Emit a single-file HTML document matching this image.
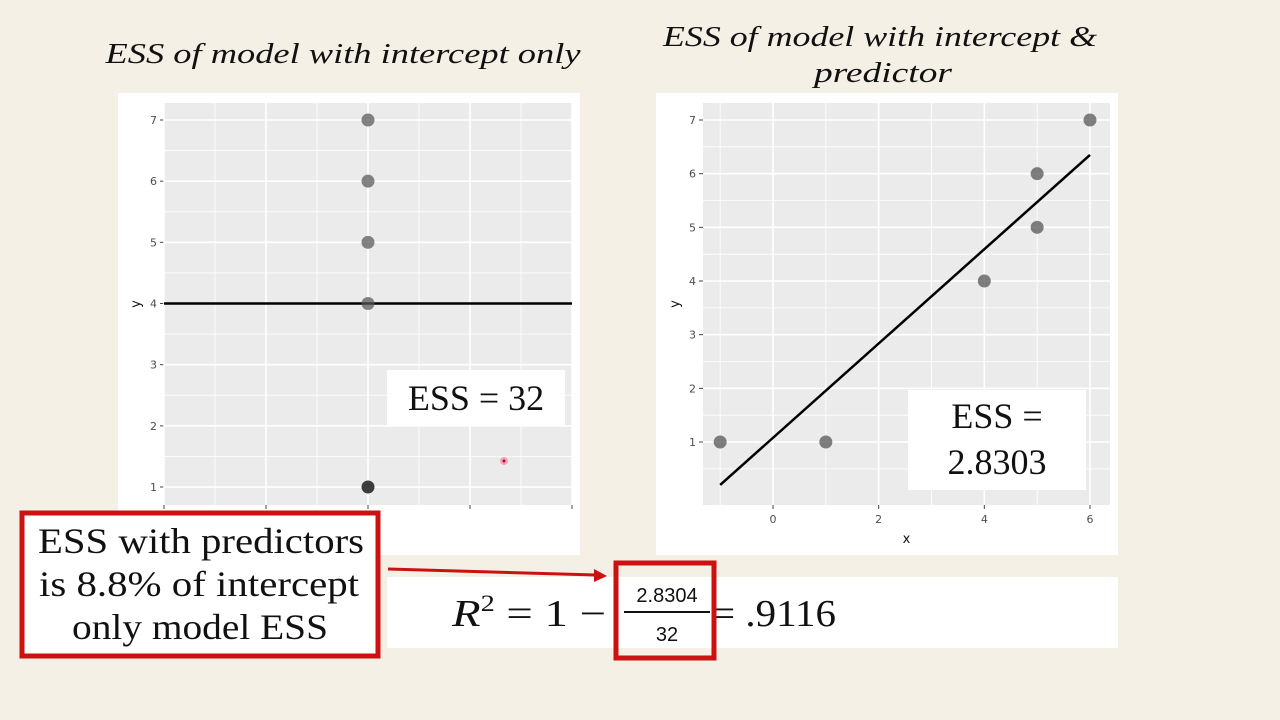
<!DOCTYPE html>
<html><head><meta charset="utf-8"><style>
html,body{margin:0;padding:0;background:#f5f0e5;}
svg{display:block;}
</style></head><body>
<svg id="s" width="1280" height="720" viewBox="0 0 1280 720" xmlns="http://www.w3.org/2000/svg">
<rect x="0" y="0" width="1280" height="720" fill="#f5f0e5"/>
<text x="343" y="63" text-anchor="middle" font-family="Liberation Serif, serif" font-style="italic" font-size="29" textLength="475" lengthAdjust="spacingAndGlyphs" fill="#111">ESS of model with intercept only</text>
<text x="880" y="46" text-anchor="middle" font-family="Liberation Serif, serif" font-style="italic" font-size="29" textLength="434" lengthAdjust="spacingAndGlyphs" fill="#111">ESS of model with intercept &amp;</text>
<text x="883" y="82" text-anchor="middle" font-family="Liberation Serif, serif" font-style="italic" font-size="29" textLength="138" lengthAdjust="spacingAndGlyphs" fill="#111">predictor</text>
<rect x="118" y="93" width="462" height="462" fill="#fff"/>
<rect x="656" y="93" width="462" height="462" fill="#fff"/>
<g id="left"></g>
<g id="right"></g>
<rect x="908" y="390" width="178" height="100" fill="#fff"/>
<text x="997" y="428" text-anchor="middle" font-family="Liberation Serif, serif" font-size="36" fill="#111">ESS =</text>
<text x="997" y="474" text-anchor="middle" font-family="Liberation Serif, serif" font-size="36" fill="#111">2.8303</text>
<rect x="387" y="370" width="178" height="56" fill="#fff"/>
<text x="476" y="410" text-anchor="middle" font-family="Liberation Serif, serif" font-size="36" fill="#111">ESS = 32</text>
<circle cx="504" cy="461" r="4" fill="#f3a6b8"/>
<circle cx="504" cy="461" r="1.5" fill="#c0003a"/>
<rect x="387" y="577" width="731" height="71" fill="#fff"/>
<text x="452" y="626" font-family="Liberation Serif, serif" font-size="38" fill="#111" textLength="154" lengthAdjust="spacingAndGlyphs"><tspan font-style="italic">R</tspan><tspan font-size="23" dy="-15">2</tspan><tspan dy="15"> = 1 −</tspan></text>
<text x="667" y="602" text-anchor="middle" font-family="Liberation Sans, sans-serif" font-size="20" fill="#111">2.8304</text>
<line x1="624" y1="612" x2="710" y2="612" stroke="#111" stroke-width="2"/>
<text x="667" y="641" text-anchor="middle" font-family="Liberation Sans, sans-serif" font-size="20" fill="#111">32</text>
<text x="712" y="626" font-family="Liberation Serif, serif" font-size="38" fill="#111" textLength="124" lengthAdjust="spacingAndGlyphs">= .9116</text>
<rect x="616" y="563" width="98" height="95" fill="none" stroke="#cc1111" stroke-width="5"/>
<rect x="22" y="513" width="356" height="143" fill="#fff" stroke="#cc1111" stroke-width="5"/>
<text x="201" y="553" text-anchor="middle" font-family="Liberation Serif, serif" font-size="36" textLength="326" lengthAdjust="spacingAndGlyphs" fill="#111">ESS with predictors</text>
<text x="199" y="596" text-anchor="middle" font-family="Liberation Serif, serif" font-size="36" textLength="320" lengthAdjust="spacingAndGlyphs" fill="#111">is 8.8% of intercept</text>
<text x="200" y="639" text-anchor="middle" font-family="Liberation Serif, serif" font-size="36" textLength="256" lengthAdjust="spacingAndGlyphs" fill="#111">only model ESS</text>
<line x1="388" y1="569" x2="596" y2="575" stroke="#cc1111" stroke-width="3"/>
<polygon points="607,576 594,569 594,582" fill="#cc1111"/>
</svg>
<script>
// Left chart data (intercept-only model)
const leftX = [0, 0, 0, 0, 0];
const leftY = [7, 6, 5, 4, 1];
const leftMean = 4;
const leftYTicks = [1, 2, 3, 4, 5, 6, 7];
const leftXTicks = [-2, -1, 0, 1, 2];
// Right chart data (intercept + predictor)
const rightX = [-1, 1, 4, 5, 5, 6];
const rightY = [1, 1, 4, 5, 6, 7];
const rightYTicks = [1, 2, 3, 4, 5, 6, 7];
const rightXTicks = [0, 2, 4, 6];
const fitX = [-1, 6];
const fitY = [0.2, 6.35];

const NS = 'http://www.w3.org/2000/svg';
function mk(parent, tag, attrs) {
  const e = document.createElementNS(NS, tag);
  for (const k in attrs) e.setAttribute(k, attrs[k]);
  parent.appendChild(e);
  return e;
}

function drawPanel(g, px0, px1, py0, py1, sx, sy, xMajor, xMinor, yTicks, showXLabels) {
  const bg = mk(g, 'rect', {x: px0, y: py0, width: px1 - px0, height: py1 - py0, fill: '#ebebeb'});
  
  
  const yMinor = [];
  for (let i = 0; i < yTicks.length; i++) yMinor.push(yTicks[i] - 0.5);
  yMinor.push(yTicks[yTicks.length - 1] + 0.5);
  yMinor.forEach(v => {
    const y = sy(v);
    if (y < py0 || y > py1) return;
    const l = mk(g, 'line', {x1: px0, x2: px1, y1: y, y2: y, stroke: '#fff', 'stroke-width': 0.8});
    
    
  });
  xMinor.forEach(v => {
    const x = sx(v);
    const l = mk(g, 'line', {x1: x, x2: x, y1: py0, y2: py1, stroke: '#fff', 'stroke-width': 0.8});
    
    
  });
  yTicks.forEach(v => {
    const y = sy(v);
    const l = mk(g, 'line', {x1: px0, x2: px1, y1: y, y2: y, stroke: '#fff', 'stroke-width': 1.6});
    
    
    const t = mk(g, 'line', {x1: px0 - 4, x2: px0, y1: y, y2: y, stroke: '#444', 'stroke-width': 1});
    
    
    const tx = mk(g, 'text', {x: px0 - 7, y: y + 4, 'text-anchor': 'end', 'font-family': 'DejaVu Sans, sans-serif', 'font-size': 11, fill: '#4d4d4d'});
    tx.textContent = v;
    
    
  });
  xMajor.forEach(v => {
    const x = sx(v);
    const l = mk(g, 'line', {x1: x, x2: x, y1: py0, y2: py1, stroke: '#fff', 'stroke-width': 1.6});
    
    
    const t = mk(g, 'line', {x1: x, x2: x, y1: py1, y2: py1 + 4, stroke: '#444', 'stroke-width': 1});
    
    
    if (showXLabels) {
      const tx = mk(g, 'text', {x: x, y: py1 + 18, 'text-anchor': 'middle', 'font-family': 'DejaVu Sans, sans-serif', 'font-size': 11, fill: '#4d4d4d'});
      tx.textContent = v;
      
      
    }
  });
  const yl = mk(g, 'text', {x: 0, y: 0, transform: `translate(${px0 - 24},${(py0 + py1) / 2}) rotate(-90)`, 'text-anchor': 'middle', 'font-family': 'DejaVu Sans, sans-serif', 'font-size': 13, fill: '#111'});
  yl.textContent = 'y';
  
  
}

// Left chart
(function () {
  const g = document.getElementById('left');
  const px0 = 164, px1 = 572, py0 = 103, py1 = 505;
  const sx = v => 368 + v * 102;
  const sy = v => 120 + (7 - v) * 61.17;
  const xMinor = [];
  for (let i = 0; i < leftXTicks.length - 1; i++) xMinor.push((leftXTicks[i] + leftXTicks[i + 1]) / 2);
  drawPanel(g, px0, px1, py0, py1, sx, sy, leftXTicks, xMinor, leftYTicks, false);
  const ln = mk(g, 'line', {x1: px0, x2: px1, y1: sy(leftMean), y2: sy(leftMean), stroke: '#000', 'stroke-width': 2.5});
  
  
  leftY.forEach((v, i) => {
    const c = mk(g, 'circle', {cx: sx(leftX[i]), cy: sy(v), r: 6.5, fill: v === 1 ? '#333' : '#555', 'fill-opacity': v === 1 ? 0.95 : 0.72});
    
    
  });
})();

// Right chart
(function () {
  const g = document.getElementById('right');
  const px0 = 703, px1 = 1110, py0 = 103, py1 = 505;
  const sx = v => 773 + v * 52.83;
  const sy = v => 120 + (7 - v) * 53.67;
  const xMinor = [];
  for (let i = 0; i < rightXTicks.length; i++) xMinor.push(rightXTicks[i] - 1);
  drawPanel(g, px0, px1, py0, py1, sx, sy, rightXTicks, xMinor, rightYTicks, true);
  const xl = mk(g, 'text', {x: (px0 + px1) / 2, y: 543, 'text-anchor': 'middle', 'font-family': 'DejaVu Sans, sans-serif', 'font-size': 13, fill: '#111'});
  xl.textContent = 'x';
  
  
  const ln = mk(g, 'line', {x1: sx(fitX[0]), y1: sy(fitY[0]), x2: sx(fitX[1]), y2: sy(fitY[1]), stroke: '#000', 'stroke-width': 2.5});
  
  
  rightY.forEach((v, i) => {
    const c = mk(g, 'circle', {cx: sx(rightX[i]), cy: sy(v), r: 6.5, fill: '#555', 'fill-opacity': 0.75});
    
    
  });
})();
</script>
</body></html>
